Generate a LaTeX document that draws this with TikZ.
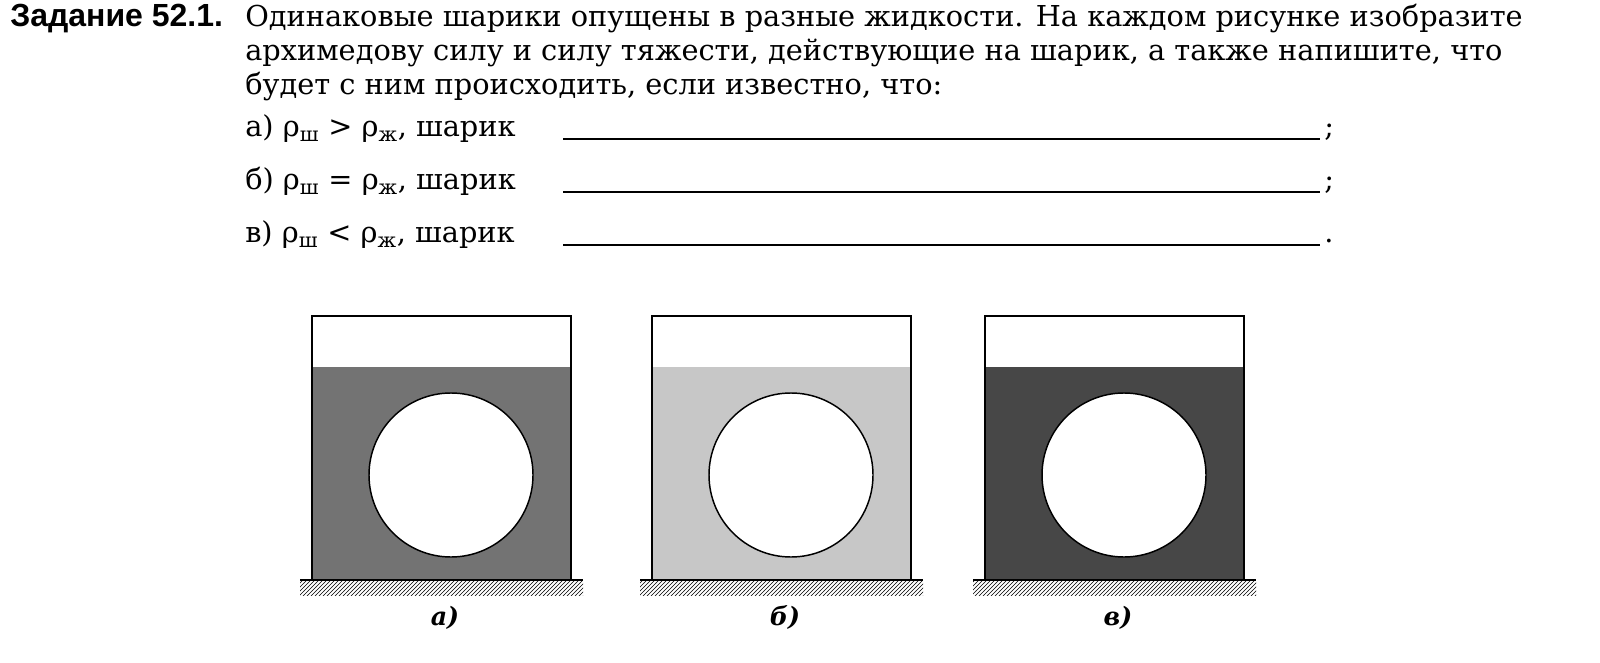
\documentclass[tikz,border=0pt]{standalone}
\usepackage{fontspec}
\setmainfont{DejaVu Serif}
\newfontfamily\titlefont{Liberation Sans}
\usetikzlibrary{patterns}
\begin{document}
\begin{tikzpicture}[x=0.75pt,y=-0.75pt,
  txt/.style={anchor=base west,inner sep=0,font=\fontsize{21.6}{25}\selectfont},
  vessel/.style={draw,line width=1.1pt},
  ball/.style={draw,fill=white,line width=1.1pt},
  lbl/.style={font=\fontsize{19}{22}\selectfont\itshape\bfseries}]
\useasboundingbox (0,0) rectangle (1600,663);
\newcommand\rsub[1]{\textsubscript{#1}}
\node[anchor=base west,inner sep=0,font=\titlefont\bfseries\fontsize{24}{27}\selectfont] (t) at (10,27) {Задание 52.1.};
\node[txt] (l1) at (245,27) {Одинаковые шарики опущены в разные жидкости. На каждом рисунке изобразите};
\node[txt] (l2) at (245,61) {архимедову силу и силу тяжести, действующие на шарик, а также напишите, что};
\node[txt] (l3) at (245,95) {будет с ним происходить, если известно, что:};
\node[txt] (a) at (245,137) {а) ρ\rsub{ш} > ρ\rsub{ж}, шарик};
\node[txt] (b) at (245,190) {б) ρ\rsub{ш} = ρ\rsub{ж}, шарик};
\node[txt] (c) at (245,243) {в) ρ\rsub{ш} < ρ\rsub{ж}, шарик};
\foreach \y/\p in {137/;,190/;,243/.}{
  \draw[line width=0.8pt] (563,\y+2) -- (1320,\y+2);
  \node[txt] at (1324,\y) {\p};}
\foreach \x/\c/\n/\l in {312/black!55/A/а),652/black!22/B/б),985/black!72/C/в)}{
  \fill[\c] (\x,367) rectangle (\x+259,580);
  \draw[vessel] (\x,316) rectangle (\x+259,580);
  \node[ball,circle,minimum size=123pt,inner sep=0] (ball\n) at (\x+139,475) {};
  \draw[line width=1.1pt] (\x-12,580) -- (\x+271,580);
  \fill[pattern=north east lines] (\x-12,581) rectangle (\x+271,595);
  \node[lbl] (lab\n) at (\x+133,618) {\l};
}
\end{tikzpicture}
\end{document}
